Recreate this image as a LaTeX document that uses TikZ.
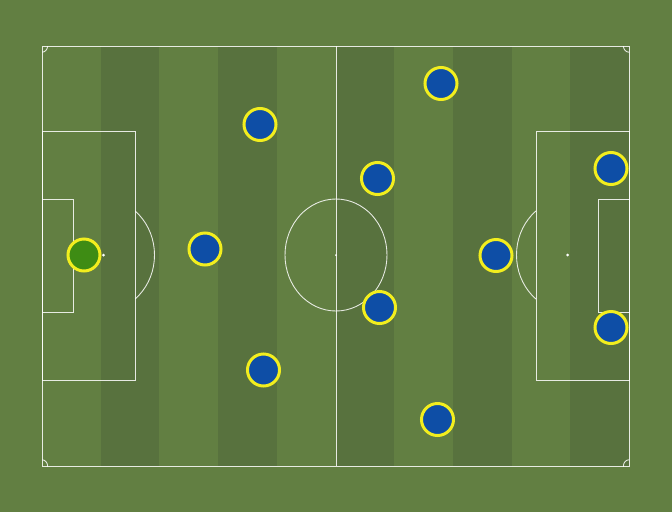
\documentclass[tikz,border=0pt]{standalone}
\definecolor{grassbg}{RGB}{98,127,66}
\definecolor{grassdark}{RGB}{88,114,62}
\definecolor{kitblue}{RGB}{14,78,166}
\definecolor{kitgreen}{RGB}{62,140,20}
\definecolor{ringyellow}{RGB}{242,238,30}
\tikzset{
  pitchline/.style={draw=white, draw opacity=0.85, line width=0.9pt},
  player/.style={circle, minimum size=32pt, inner sep=0pt, line width=3pt, draw=ringyellow, fill=kitblue},
  keeper/.style={player, fill=kitgreen},
  spotdot/.style={circle, fill=white, inner sep=0pt, minimum size=3pt}
}
\begin{document}
\begin{tikzpicture}[x=1pt,y=-1pt]
\fill[grassbg] (0,0) rectangle (672,512);
\useasboundingbox (0,0) rectangle (672,512);
% stripes
\foreach \i in {1,3,5,7,9}{
  \fill[grassdark] ({42+\i*58.7},46) rectangle ({42+(\i+1)*58.7},466);
}
% outline and halfway
\draw[pitchline] (42,46) rectangle (629,466);
\draw[pitchline] (336,46) -- (336,466);
\draw[pitchline] (336,255) ellipse [x radius=51pt, y radius=56pt];
% penalty areas
\draw[pitchline] (42,131) rectangle (135,380);
\draw[pitchline] (42,199) rectangle (73,312);
\draw[pitchline] (629,131) rectangle (536,380);
\draw[pitchline] (629,199) rectangle (598,312);
% arcs
\begin{scope}
  \clip (135,0) rectangle (220,512);
  \draw[pitchline] (103.5,255) ellipse [x radius=51pt, y radius=56pt];
\end{scope}
\begin{scope}
  \clip (450,0) rectangle (536,512);
  \draw[pitchline] (567.5,255) ellipse [x radius=51pt, y radius=56pt];
\end{scope}
% corner arcs
\begin{scope}
  \clip (42,46) rectangle (629,466);
  \foreach \cx/\cy in {42/46,629/46,42/466,629/466}{
    \draw[pitchline] (\cx,\cy) ellipse [x radius=5.6pt, y radius=6.2pt];
  }
\end{scope}
% spots
\node[spotdot] (spotL) at (103.5,255) {};
\node[spotdot] (spotR) at (567.5,255) {};
\node[spotdot, minimum size=2pt] (spotC) at (336,255) {};
% players
\node[keeper] (gk) at (84,255) {};
\node[player] (p1) at (260,124.5) {};
\node[player] (p2) at (205,249) {};
\node[player] (p3) at (263.5,370) {};
\node[player] (p4) at (441,83.5) {};
\node[player] (p5) at (377.5,178.5) {};
\node[player] (p6) at (379.5,307.5) {};
\node[player] (p7) at (496,255.5) {};
\node[player] (p8) at (437.5,419.5) {};
\node[player] (p9) at (611,168.5) {};
\node[player] (p10) at (611,327.5) {};
\end{tikzpicture}
\end{document}
